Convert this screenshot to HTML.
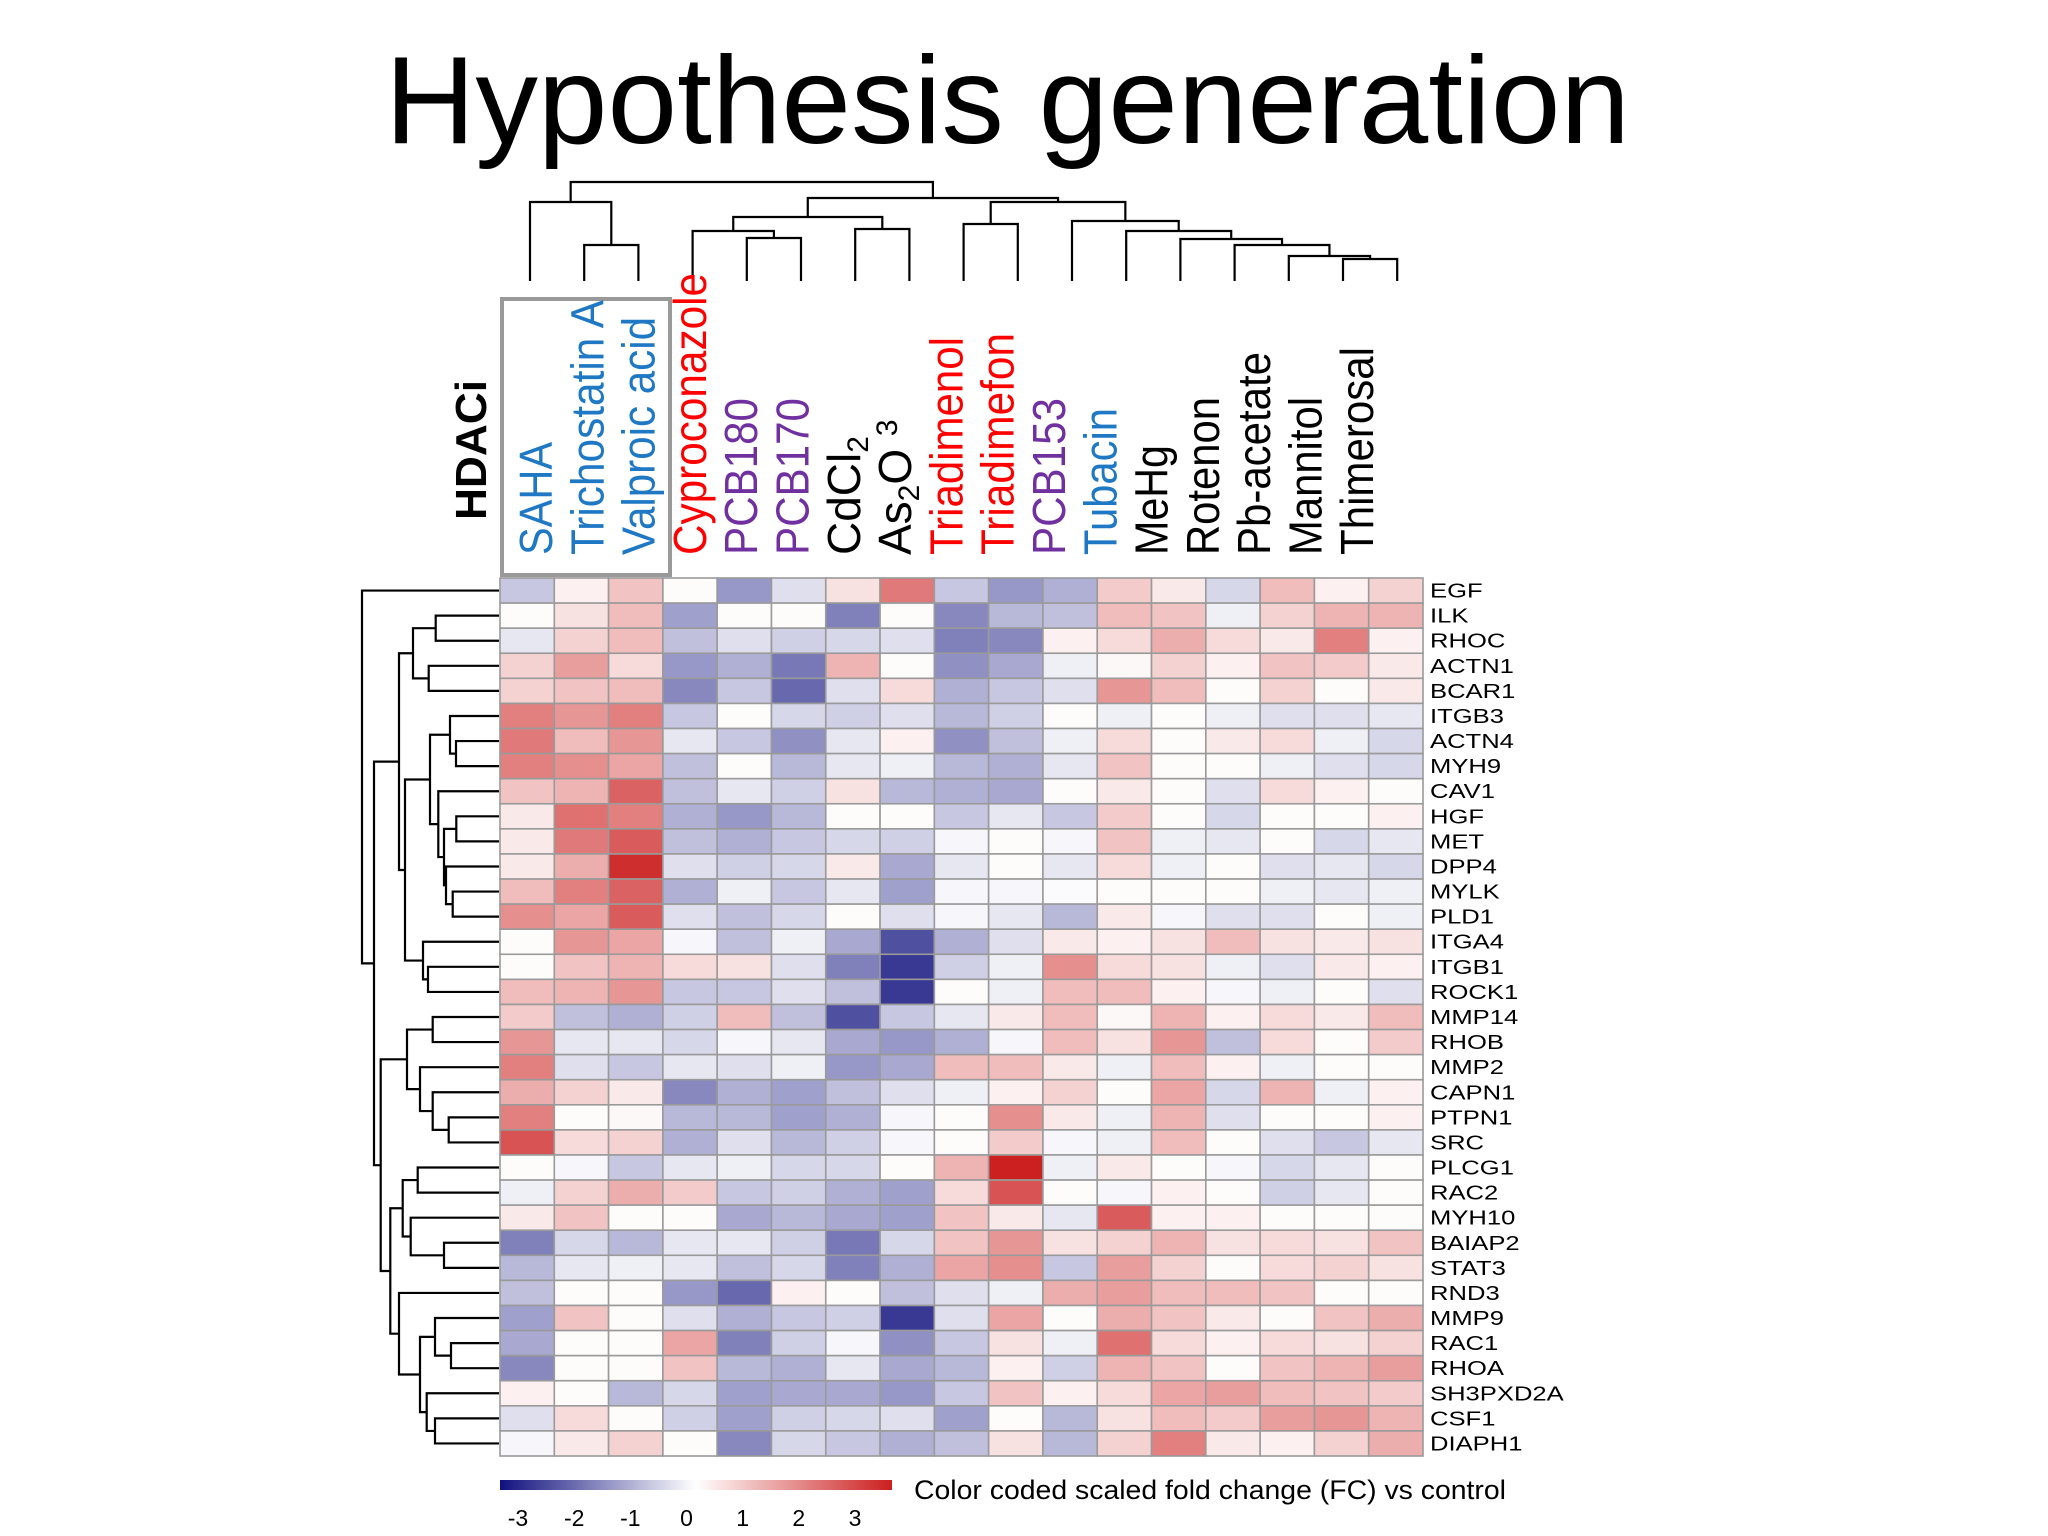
<!DOCTYPE html>
<html><head><meta charset="utf-8"><title>Hypothesis generation</title>
<style>html,body{margin:0;padding:0;background:#fff;}svg{display:block;font-family:"Liberation Sans",Arial,sans-serif;}</style>
</head><body>
<svg id="chart" width="2048" height="1536" viewBox="0 0 2048 1536" xmlns="http://www.w3.org/2000/svg">
<text x="385" y="143" font-size="124" textLength="1245" lengthAdjust="spacingAndGlyphs">Hypothesis generation</text>
<g id="coldendro"></g>
<g id="rowdendro"></g>
<rect x="502" y="299" width="168" height="276" fill="none" stroke="#999" stroke-width="4"/>
<text transform="translate(486,520) rotate(-90)" font-size="44" font-weight="bold" textLength="140" lengthAdjust="spacingAndGlyphs">HDACi</text>
<g id="collabels"></g>
<g id="cells"></g>
<g id="rowlabels"></g>
<defs><linearGradient id="cbgrad" x1="0" x2="1" y1="0" y2="0"></linearGradient></defs>
<rect x="500" y="1480" width="392" height="10" fill="url(#cbgrad)"/>
<g id="cbticks"></g>
<text x="914" y="1499" font-size="27" textLength="592" lengthAdjust="spacingAndGlyphs">Color coded scaled fold change (FC) vs control</text>
</svg>
<script>
const compounds = ["SAHA","Trichostatin A","Valproic acid","Cyproconazole","PCB180","PCB170","CdCl2","As2O3","Triadimenol","Triadimefon","PCB153","Tubacin","MeHg","Rotenon","Pb-acetate","Mannitol","Thimerosal"];
const compoundColors = ["#1f78c4","#1f78c4","#1f78c4","#ff0000","#7030a0","#7030a0","#000","#000","#ff0000","#ff0000","#7030a0","#1f78c4","#000","#000","#000","#000","#000"];
const compoundLabelLen = [113,255,238,282,157,157,108,118,218,222,157,147,110,158,203,158,208];
const genes = ["EGF","ILK","RHOC","ACTN1","BCAR1","ITGB3","ACTN4","MYH9","CAV1","HGF","MET","DPP4","MYLK","PLD1","ITGA4","ITGB1","ROCK1","MMP14","RHOB","MMP2","CAPN1","PTPN1","SRC","PLCG1","RAC2","MYH10","BAIAP2","STAT3","RND3","MMP9","RAC1","RHOA","SH3PXD2A","CSF1","DIAPH1"];
const fc = [
[-0.7,0.2,0.8,0.05,-1.3,-0.4,0.4,1.8,-0.7,-1.3,-1.0,0.7,0.3,-0.5,0.9,0.2,0.6],
[0.05,0.4,0.9,-1.2,0.05,0.05,-1.6,0.05,-1.5,-0.9,-0.8,0.9,0.8,-0.2,0.6,1.0,1.0],
[-0.3,0.6,0.9,-0.8,-0.4,-0.6,-0.5,-0.4,-1.6,-1.5,0.2,0.5,1.1,0.5,0.3,1.7,0.2],
[0.6,1.3,0.5,-1.3,-1.0,-1.7,1.0,0.05,-1.4,-1.1,-0.2,0.1,0.6,0.2,0.8,0.7,0.3],
[0.6,0.8,0.9,-1.5,-0.7,-1.9,-0.4,0.5,-1.0,-0.7,-0.4,1.4,0.9,0.05,0.6,0.05,0.3],
[1.7,1.4,1.7,-0.7,0.05,-0.5,-0.6,-0.4,-0.9,-0.6,0.05,-0.2,0.05,-0.2,-0.4,-0.4,-0.3],
[1.8,0.9,1.4,-0.3,-0.7,-1.4,-0.3,0.2,-1.4,-0.8,-0.2,0.5,0.05,0.3,0.5,-0.2,-0.5],
[1.7,1.5,1.2,-0.8,0.05,-0.9,-0.3,-0.2,-0.9,-1.0,-0.3,0.8,0.05,0.05,-0.2,-0.4,-0.5],
[0.8,1.0,2.1,-0.8,-0.3,-0.6,0.4,-0.9,-1.0,-1.1,0.05,0.3,0.05,-0.4,0.5,0.2,0.05],
[0.3,1.9,1.7,-1.0,-1.3,-0.9,0.05,0.05,-0.7,-0.3,-0.7,0.7,0.05,-0.5,0.05,0.05,0.2],
[0.3,1.8,2.2,-0.8,-1.0,-0.7,-0.5,-0.6,-0.1,0.05,-0.1,0.8,-0.2,-0.3,0.05,-0.5,-0.3],
[0.3,1.1,2.8,-0.4,-0.6,-0.5,0.3,-1.1,-0.3,0.05,-0.3,0.5,-0.2,0.05,-0.4,-0.3,-0.5],
[0.9,1.7,2.1,-1.0,-0.2,-0.7,-0.3,-1.2,-0.1,-0.1,-0.05,0.05,0.05,0.05,-0.2,-0.3,-0.2],
[1.5,1.2,2.2,-0.4,-0.8,-0.5,0.05,-0.4,-0.1,-0.3,-0.9,0.3,-0.1,-0.4,-0.4,0.05,-0.2],
[0.05,1.4,1.2,-0.1,-0.8,-0.2,-1.1,-2.2,-1.0,-0.4,0.3,0.2,0.4,0.9,0.4,0.3,0.4],
[0.05,0.8,1.0,0.5,0.4,-0.4,-1.6,-2.5,-0.6,-0.2,1.5,0.5,0.4,-0.2,-0.4,0.3,0.2],
[0.9,1.0,1.4,-0.7,-0.7,-0.4,-0.8,-2.5,0.05,-0.2,0.9,0.9,0.2,-0.1,-0.2,0.05,-0.4],
[0.7,-0.8,-1.0,-0.6,0.9,-0.8,-2.2,-0.7,-0.3,0.3,0.9,0.1,1.0,0.2,0.5,0.3,0.9],
[1.4,-0.3,-0.3,-0.5,-0.1,-0.3,-1.1,-1.3,-1.0,-0.1,0.9,0.4,1.4,-0.8,0.5,0.05,0.7],
[1.7,-0.4,-0.7,-0.3,-0.4,-0.2,-1.3,-1.1,0.9,0.9,0.3,-0.2,0.9,0.2,-0.2,0.05,0.05],
[1.1,0.6,0.3,-1.5,-1.0,-1.2,-0.8,-0.4,-0.2,0.2,0.6,0.05,1.2,-0.5,1.0,-0.2,0.2],
[1.7,0.05,0.1,-0.9,-0.9,-1.2,-1.0,-0.1,0.05,1.5,0.3,-0.2,1.0,-0.4,0.05,0.05,0.2],
[2.3,0.5,0.6,-1.0,-0.4,-0.9,-0.6,-0.1,0.05,0.7,-0.1,-0.2,0.9,0.05,-0.4,-0.7,-0.3],
[0.05,-0.1,-0.7,-0.3,-0.2,-0.5,-0.5,0.05,1.0,3.0,-0.2,0.3,0.05,-0.1,-0.5,-0.3,0.05],
[-0.2,0.6,1.1,0.7,-0.7,-0.6,-1.0,-1.2,0.5,2.3,0.05,-0.1,0.2,0.05,-0.6,-0.3,0.05],
[0.3,0.8,0.05,0.05,-1.1,-0.9,-1.1,-1.2,0.8,0.3,-0.3,2.2,0.2,0.2,0.05,0.05,0.05],
[-1.6,-0.5,-0.9,-0.3,-0.3,-0.6,-1.7,-0.5,0.8,1.4,0.4,0.6,1.0,0.4,0.5,0.4,0.8],
[-0.9,-0.3,-0.2,-0.3,-0.8,-0.5,-1.6,-1.0,1.2,1.5,-0.7,1.3,0.6,0.05,0.5,0.6,0.4],
[-0.8,0.05,0.05,-1.3,-1.9,0.2,0.05,-0.8,-0.4,-0.2,1.1,1.3,0.9,0.9,0.8,0.05,0.05],
[-1.2,0.8,0.05,-0.4,-1.0,-0.7,-0.6,-2.5,-0.4,1.2,0.05,1.1,0.8,0.3,0.05,0.8,1.1],
[-1.1,0.05,0.05,1.2,-1.6,-0.6,-0.1,-1.4,-0.7,0.4,-0.2,1.9,0.5,0.2,0.5,0.4,0.6],
[-1.5,0.05,0.05,0.8,-0.9,-1.0,-0.3,-1.1,-0.9,0.2,-0.6,1.0,0.8,0.05,0.8,1.0,1.3],
[0.2,0.05,-0.9,-0.5,-1.2,-1.1,-1.1,-1.3,-0.7,0.8,0.2,0.5,1.2,1.3,0.9,0.8,0.7],
[-0.4,0.5,0.05,-0.6,-1.2,-0.6,-0.5,-0.4,-1.2,0.05,-0.9,0.4,0.9,0.7,1.3,1.4,1.0],
[-0.1,0.3,0.6,0.05,-1.5,-0.5,-0.7,-1.0,-0.8,0.4,-0.9,0.6,1.7,0.3,0.2,0.6,1.1]
];
const tickValues = [-3,-2,-1,0,1,2,3];
// dendrogram merge heights (y for columns, x for rows), nested [height, left, right]
const colTree = [182,[202,0,[245,1,2]],[198,[217,[231,3,[238,4,5]],[229,6,7]],[202,[224,8,9],[221,10,[231,11,[239,12,[245,13,[256,14,[259,15,16]]]]]]]]];
const rowTree = [362,0,[374,[399,[413,[435.7,1,2],[428.7,3,4]],[405,[430,[450,5,[456,6,7]],[438.3,8,[444,[456.3,9,10],[446,11,[452.7,12,13]]]]],[423,14,[428,15,16]]]],[380.7,[407,[432.7,17,18],[420,19,[432.7,20,[448.7,21,22]]]],[390.3,[402.7,[417.7,23,24],[410.7,25,[444,26,27]]],[399,28,[420,[435,29,[451,30,31]],[426.7,32,[435,33,34]]]]]]]];

const NS = "http://www.w3.org/2000/svg";
const X0 = 500, X1 = 1423, Y0 = 578, Y1 = 1456;
const cw = (X1 - X0) / compounds.length, rh = (Y1 - Y0) / genes.length;
const xCol = i => X0 + cw * i;
const yRow = j => Y0 + rh * j;
const labelX = i => 552 + 51.3 * i;
const leafX = i => 530 + 54.2 * i;
const vmin = -3, vmax = 3;
function color(v) {
  v = Math.max(vmin, Math.min(vmax, v));
  let t, c;
  if (v >= 0) { t = v / vmax; c = [204, 31, 31]; } else { t = v / vmin; c = [17, 17, 127]; }
  const m = k => Math.round(255 + (c[k] - 255) * t);
  return `rgb(${m(0)},${m(1)},${m(2)})`;
}
function mk(tag, attrs, parent) {
  const e = document.createElementNS(NS, tag);
  for (const k in attrs) e.setAttribute(k, attrs[k]);
  parent.appendChild(e);
  return e;
}
// cells
const cellsG = document.getElementById("cells");
fc.forEach((row, j) => row.forEach((v, i) => {
  const r = mk("rect", {x: xCol(i), y: yRow(j), width: cw, height: rh, fill: color(v), stroke: "#9a9a9a", "stroke-width": 1.6}, cellsG);
  
  
}));
// row labels
const rlG = document.getElementById("rowlabels");
genes.forEach((g, j) => {
  const t = mk("text", {transform: `translate(1430,${yRow(j) + rh / 2 + 7}) scale(1.28,1)`, "font-size": 20}, rlG);
  t.textContent = g;
  
  
});
// column labels
const clG = document.getElementById("collabels");
compounds.forEach((c, i) => {
  const t = mk("text", {transform: `translate(${labelX(i)},555) rotate(-90)`, "font-size": 46, fill: compoundColors[i]}, clG);
  if (c === "CdCl2") {
    t.textContent = "CdCl";
    const s = mk("tspan", {"font-size": 30, dy: 8}, t); s.textContent = "2";
  } else if (c === "As2O3") {
    t.textContent = "As";
    const s = mk("tspan", {"font-size": 30, dy: 8}, t); s.textContent = "2";
    const o = mk("tspan", {dy: -8}, t); o.textContent = "O ";
    const s3 = mk("tspan", {"font-size": 30, dy: -14}, t); s3.textContent = "3";
  } else {
    t.textContent = c;
    t.setAttribute("textLength", compoundLabelLen[i]);
    t.setAttribute("lengthAdjust", "spacingAndGlyphs");
  }
  
  
});
// dendrograms
function drawTree(node, leafPos, leafH, horizontal, g) {
  if (typeof node === "number") return [leafPos(node), leafH];
  const a = drawTree(node[1], leafPos, leafH, horizontal, g);
  const b = drawTree(node[2], leafPos, leafH, horizontal, g);
  const h = node[0];
  let d;
  if (!horizontal) d = `M${a[0]},${a[1]}V${h}H${b[0]}V${b[1]}`;
  else d = `M${a[1]},${a[0]}H${h}V${b[0]}H${b[1]}`;
  const p = mk("path", {d: d, fill: "none", stroke: "#000", "stroke-width": 2.2}, g);
  
  
  return [(a[0] + b[0]) / 2, h];
}
drawTree(colTree, leafX, 281, false, document.getElementById("coldendro"));
drawTree(rowTree, j => yRow(j) + rh / 2, 499, true, document.getElementById("rowdendro"));
// colorbar
const grad = document.getElementById("cbgrad");
for (let k = 0; k <= 24; k++) {
  const v = vmin + (vmax - vmin) * k / 24;
  mk("stop", {offset: (k / 24 * 100) + "%", "stop-color": color(v)}, grad);
}
const tkG = document.getElementById("cbticks");
const cbX = v => 518 + (v - vmin) * (855 - 518) / (vmax - vmin);
tickValues.forEach(v => {
  const t = mk("text", {x: cbX(v), y: 1526, "font-size": 23, "text-anchor": "middle"}, tkG);
  t.textContent = String(v);
  
  
});
</script>
</body></html>
